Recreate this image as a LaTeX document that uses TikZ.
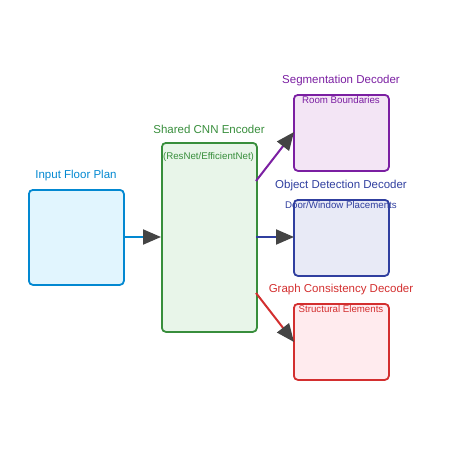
\documentclass[tikz,border=0pt]{standalone}
\usepackage{fontspec}
\setmainfont{Liberation Sans}
\usetikzlibrary{arrows.meta}
\definecolor{inE}{HTML}{0288D1}\definecolor{inF}{HTML}{E1F5FE}
\definecolor{enE}{HTML}{388E3C}\definecolor{enF}{HTML}{E8F5E9}
\definecolor{seE}{HTML}{7B1FA2}\definecolor{seF}{HTML}{F3E5F5}
\definecolor{obE}{HTML}{303F9F}\definecolor{obF}{HTML}{E8EAF6}
\definecolor{grE}{HTML}{D32F2F}\definecolor{grF}{HTML}{FFEBEE}
\definecolor{headC}{HTML}{444444}
\tikzset{
  box/.style={draw=#1E, fill=#1F, line width=1.8pt, rounded corners=4pt, inner sep=0pt, anchor=north west},
  ttl/.style={text=#1E, font=\fontsize{11.5}{13}\selectfont, inner sep=0pt},
  sub/.style={text=#1E, font=\fontsize{9.7}{11}\selectfont, inner sep=0pt},
  conn/.style={draw=#1E, line width=2pt, -{Triangle[length=18pt,width=15pt,color=headC]}}
}
\begin{document}
\begin{tikzpicture}[x=1pt,y=-1pt]
\useasboundingbox (0,0) rectangle (474,474);
% boxes
\node[box=in, minimum width=95pt, minimum height=95pt] (inp) at (28,189) {};
\node[box=en, minimum width=95pt, minimum height=189pt] (enc) at (161,142) {};
\node[box=se, minimum width=95pt, minimum height=76pt] (seg) at (293,94) {};
\node[box=ob, minimum width=95pt, minimum height=76pt] (obj) at (293,199) {};
\node[box=gr, minimum width=95pt, minimum height=76pt] (gra) at (293,303) {};
% titles
\node[ttl=in] (tin) at (76,176) {Input Floor Plan};
\node[ttl=en] (ten) at (209,129) {Shared CNN Encoder};
\node[ttl=se] (tse) at (341,81) {Segmentation Decoder};
\node[ttl=ob] (tob) at (341,186) {Object Detection Decoder};
\node[ttl=gr] (tgr) at (341,290) {Graph Consistency Decoder};
% subtitles
\node[sub=en] (sen) at (208.5,157) {(ResNet/EfficientNet)};
\node[sub=se] (sse) at (341,100) {Room Boundaries};
\node[sub=ob] (sob) at (341,205) {Door/Window Placements};
\node[sub=gr] (sgr) at (341,309) {Structural Elements};
% connectors
\coordinate (i1) at (123,237);
\coordinate (c0) at (161,237);
\coordinate (e1) at (256,181);
\coordinate (e2) at (256,237);
\coordinate (e3) at (256,293);
\coordinate (s1) at (294,132);
\coordinate (o1) at (294,237);
\coordinate (g1) at (294,342);
\draw[conn=in] (i1) -- (c0);
\draw[conn=se] (e1) -- (s1);
\draw[conn=ob] (e2) -- (o1);
\draw[conn=gr] (e3) -- (g1);
\end{tikzpicture}
\end{document}
